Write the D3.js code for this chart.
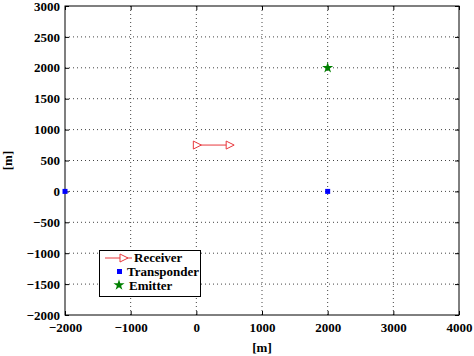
<!DOCTYPE html>
<html><head><meta charset="utf-8">
<script src="https://cdn.jsdelivr.net/npm/d3@7"></script>
<style>body{margin:0;background:#fff}svg{display:block}text{font-family:"Liberation Serif","DejaVu Serif",serif;font-weight:bold}</style>
</head><body><svg id="c" width="474" height="356"></svg>
<script>
const xTicks=[-2000,-1000,0,1000,2000,3000,4000];
const yTicks=[-2000,-1500,-1000,-500,0,500,1000,1500,2000,2500,3000];
const receiverX=[0,500], receiverY=[750,750];
const transponderX=[-2000,2000], transponderY=[0,0];
const emitterX=[2000], emitterY=[2000];
const legendLabels=["Receiver","Transponder","Emitter"];

const svg=d3.select("#c");
const L=65,R=459,T=6,B=315;
const x=d3.scaleLinear().domain([-2000,4000]).range([L,R]);
const y=d3.scaleLinear().domain([-2000,3000]).range([B,T]);
const fmt=d=>String(d).replace("-","\u2212");
const FS=13;

// grid
const g=svg.append("g");
g.selectAll(".gx").data(xTicks.slice(1,-1)).join("line").attr("x1",d=>x(d)).attr("x2",d=>x(d)).attr("y1",T).attr("y2",B).attr("stroke","#444").attr("stroke-width",1).attr("stroke-dasharray","1,3");
g.selectAll(".gy").data(yTicks.slice(1,-1)).join("line").attr("y1",d=>y(d)).attr("y2",d=>y(d)).attr("x1",L).attr("x2",R).attr("stroke","#444").attr("stroke-width",1).attr("stroke-dasharray","1,3");

// axes
const ax=svg.append("g").attr("transform",`translate(0,${B})`).call(d3.axisBottom(x).tickValues(xTicks).tickSizeInner(-4).tickSizeOuter(0).tickPadding(8).tickFormat(fmt));
const ay=svg.append("g").attr("transform",`translate(${L},0)`).call(d3.axisLeft(y).tickValues(yTicks).tickSizeInner(-4).tickSizeOuter(0).tickPadding(5).tickFormat(fmt));
const axt=svg.append("g").attr("transform",`translate(0,${T})`).call(d3.axisTop(x).tickValues(xTicks).tickSizeInner(-4).tickSizeOuter(0).tickFormat(""));
const ayr=svg.append("g").attr("transform",`translate(${R},0)`).call(d3.axisRight(y).tickValues(yTicks).tickSizeInner(-4).tickSizeOuter(0).tickFormat(""));
[ax,ay,axt,ayr].forEach(a=>{a.select(".domain").remove();a.selectAll("line").attr("stroke","#000");a.selectAll("text").attr("font-size",FS).attr("font-family","Liberation Serif, serif").attr("font-weight","bold").attr("fill","#000");});
svg.append("rect").attr("x",L).attr("y",T).attr("width",R-L).attr("height",B-T).attr("fill","none").attr("stroke","#000").attr("stroke-width",1);

svg.append("text").attr("x",(L+R)/2).attr("y",352).attr("text-anchor","middle").attr("font-size",FS).text("[m]");
svg.append("text").attr("transform",`translate(12,${(T+B)/2}) rotate(-90)`).attr("text-anchor","middle").attr("font-size",FS).text("[m]");

const red="#e8383d", blue="#0000ff", green="#008000";
const tri=(cx,cy)=>`M${cx-4},${cy-4}L${cx+4},${cy}L${cx-4},${cy+4}Z`;
const star=d3.symbol().type(d3.symbolStar).size(38);
// receiver
const rd=receiverX.map((v,i)=>[v,receiverY[i]]);
svg.append("path").attr("d",d3.line().x(d=>x(d[0])).y(d=>y(d[1]))(rd)).attr("stroke",red).attr("stroke-width",1).attr("fill","none");
svg.selectAll(".rt").data(rd).join("path").attr("d",d=>tri(x(d[0])+1,y(d[1]))).attr("fill","#fff").attr("stroke",red);
// transponders
svg.selectAll(".tp").data(transponderX.map((v,i)=>[v,transponderY[i]])).join("rect").attr("x",d=>x(d[0])-2.5).attr("y",d=>y(d[1])-2.5).attr("width",5).attr("height",5).attr("fill",blue);
// emitter
svg.selectAll(".em").data(emitterX.map((v,i)=>[v,emitterY[i]])).join("path").attr("transform",d=>`translate(${x(d[0])},${y(d[1])})`).attr("d",star).attr("fill",green);

// legend
const lg=svg.append("g");
lg.append("rect").attr("x",99.5).attr("y",250.5).attr("width",101).attr("height",46).attr("fill","#fff").attr("stroke","#000");
lg.append("line").attr("x1",105).attr("x2",132).attr("y1",258).attr("y2",258).attr("stroke",red);
lg.append("path").attr("d",tri(124,258)).attr("fill","#fff").attr("stroke",red);
lg.append("rect").attr("x",117).attr("y",269).attr("width",5).attr("height",5).attr("fill",blue);
lg.append("path").attr("transform","translate(119,285)").attr("d",star).attr("fill",green);
lg.selectAll(".lt").data(legendLabels).join("text").attr("x",(d,i)=>[134,127,129][i]).attr("y",(d,i)=>262+i*14).attr("font-size",FS).text(d=>d);
</script></body></html>
